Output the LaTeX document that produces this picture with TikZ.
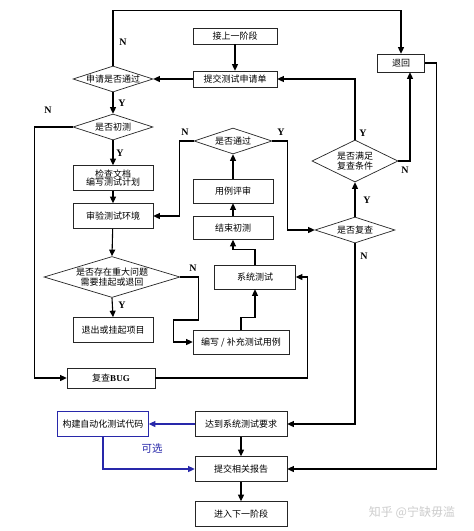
\documentclass[tikz,border=0pt]{standalone}
\usepackage{fontspec}
\setmainfont{Liberation Serif}
\newfontfamily\cjk{Noto Sans CJK SC}
\usetikzlibrary{shapes.geometric,arrows.meta}
\definecolor{lineblue}{RGB}{40,40,170}
\definecolor{wm}{RGB}{205,205,205}
\tikzset{
  box/.style={draw=black!85, line width=0.7pt, fill=white, inner sep=0pt, font=\cjk\fontsize{9}{11}\selectfont, align=center},
  dia/.style={draw=black!85, line width=0.7pt, fill=white, diamond, inner sep=0pt},
  dtext/.style={font=\cjk\fontsize{9}{11}\selectfont, align=center, inner sep=0pt},
  arr/.style={line width=1.1pt, -{Triangle[length=6.5pt,width=6pt]}},
  barr/.style={line width=1.1pt, draw=lineblue, -{Triangle[length=6.5pt,width=6pt]}},
  yn/.style={font=\bfseries\fontsize{10}{12}\selectfont, inner sep=0pt}
}
\begin{document}
\begin{tikzpicture}[x=1pt,y=-1pt]
\useasboundingbox[fill=white] (0,0) rectangle (474,531);

% boxes
\node[box, minimum width=84, minimum height=16] (nstart) at (235,36) {接上一阶段};
\node[box, minimum width=84, minimum height=16] (nsubmit) at (235,79) {提交测试申请单};
\node[box, minimum width=47, minimum height=18] (nback) at (401,63) {退回};
\node[box, minimum width=80, minimum height=25] (ncheck) at (113,178) {检查文档\\[-2.5pt]编写测试计划};
\node[box, minimum width=80, minimum height=25] (nenv) at (113,216) {审验测试环境};
\node[box, minimum width=80, minimum height=25] (nexit) at (113,330) {退出或挂起项目};
\node[box, minimum width=96, minimum height=24] (nwrite) at (241,342) {编写 / 补充测试用例};
\node[box, minimum width=81, minimum height=24] (nsys) at (255,277) {系统测试};
\node[box, minimum width=80, minimum height=23] (nend) at (233,228) {结束初测};
\node[box, minimum width=80, minimum height=24] (nreview) at (233,191) {用例评审};
\node[box, minimum width=88, minimum height=20] (nbug) at (111,378) {复查{\rmfamily\bfseries BUG}};
\node[box, draw=lineblue, minimum width=91, minimum height=25] (nauto) at (103,424) {构建自动化测试代码};
\node[box, minimum width=92, minimum height=25] (nreach) at (241,424) {达到系统测试要求};
\node[box, minimum width=92, minimum height=25] (nreport) at (241,469) {提交相关报告};
\node[box, minimum width=92, minimum height=25] (nnext) at (241,514) {进入下一阶段};

% diamonds
\node[dia, minimum width=80, minimum height=26] (dapply) at (113,79) {};
\node[dtext] (tapply) at (dapply) {申请是否通过};
\node[dia, minimum width=80, minimum height=26] (dfirst) at (113,127) {};
\node[dtext] (tfirst) at (dfirst) {是否初测};
\node[dia, minimum width=136, minimum height=41] (dmajor) at (112,277) {};
\node[dtext] (tmajor) at (dmajor) {是否存在重大问题\\[-1.5pt]需要挂起或退回};
\node[dia, minimum width=78, minimum height=26] (dpass) at (233,141) {};
\node[dtext] (tpass) at (dpass) {是否通过};
\node[dia, minimum width=80, minimum height=26] (drecheck) at (355,230) {};
\node[dtext] (trecheck) at (drecheck) {是否复查};
\node[dia, minimum width=86, minimum height=42] (dcond) at (355,161) {};
\node[dtext] (tcond) at (dcond) {是否满足\\[-1.5pt]复查条件};

% connectors
\draw[arr] (nstart) -- (nsubmit);
\draw[arr] (nsubmit.west) -- (dapply.east);
\draw[arr] (dapply.north) -- ++(0,-55) -| (nback.north);
\draw[arr] (dapply.south) -- (dfirst.north);
\draw[arr] (dfirst.west) -- ++(-38,0) |- (nbug.west);
\draw[arr] (dfirst.south) -- (ncheck.north);
\draw[arr] (ncheck) -- (nenv);
\draw[arr] (nenv) -- (dmajor.north);
\draw[arr] (dmajor.south) -- (nexit.north);
\draw[arr] (dmajor.east) -- ++(18,0) -- ++(0,43) -- ++(-25,0) |- (nwrite.west);
\draw[arr] (nwrite.north) -- ++(0,-12) -| (nsys.south);
\draw[arr] (nsys.north) -- ++(0,-15) -| (nend.south);
\draw[arr] (nend) -- (nreview);
\draw[arr] (nreview) -- (dpass.south);
\draw[arr] (dpass.west) -- ++(-14,0) |- (nenv.east);
\draw[arr] (dpass.east) -- ++(15,0) |- (drecheck.west);
\draw[arr] (drecheck.north) -- (dcond.south);
\draw[arr] (dcond.north) |- (nsubmit.east);
\draw[arr] (dcond.east) -| ([xshift=9pt]nback.south);
\draw[arr] (drecheck.south) |- (nreach.east);
\draw[arr] (nback.east) -- ++(12,0) |- (nreport.east);
\draw[arr] (nbug.east) -| ([xshift=12pt]nsys.east) -- (nsys.east);
\draw[barr] (nreach.west) -- (nauto.east);
\draw[barr] (nauto.south) |- (nreport.west);
\draw[arr] (nreach) -- (nreport);
\draw[arr] (nreport) -- (nnext);

% Y / N labels
\node[yn] (l1) at (123,42) {N};
\node[yn] (l2) at (122,103) {Y};
\node[yn] (l3) at (48,110) {N};
\node[yn] (l4) at (120,153) {Y};
\node[yn] (l5) at (122,305) {Y};
\node[yn] (l6) at (193,268) {N};
\node[yn] (l7) at (185,132) {N};
\node[yn] (l8) at (281,132) {Y};
\node[yn] (l9) at (367,200) {Y};
\node[yn] (l10) at (363,133) {Y};
\node[yn] (l11) at (405,170) {N};
\node[yn] (l12) at (364,256) {N};

\node[font=\cjk\fontsize{10.5}{12}\selectfont, text=lineblue, inner sep=0pt] (opt) at (152,449) {可选};
\node[font=\cjk\fontsize{12}{14}\selectfont, text=wm, inner sep=0pt] (wmark) at (412,512) {知乎 @宁缺毋滥};
\end{tikzpicture}
\end{document}
